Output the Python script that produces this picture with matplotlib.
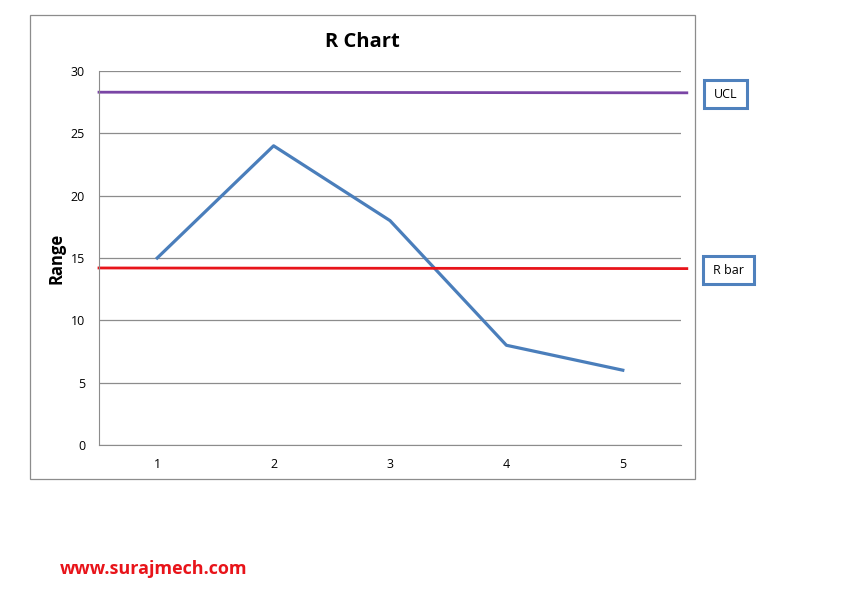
import matplotlib.pyplot as plt
from matplotlib.patches import Rectangle

plt.rcParams['font.family'] = 'sans-serif'
plt.rcParams['font.sans-serif'] = ['Open Sans', 'DejaVu Sans']

# Data
samples = [1, 2, 3, 4, 5]
ranges = [15, 24, 18, 8, 6]
ucl = 28.3
r_bar = 14.2
y_ticks = [0, 5, 10, 15, 20, 25, 30]

W, H = 844, 613
fig = plt.figure(figsize=(W / 100, H / 100), dpi=100)

# outer chart frame
fig.patches.append(Rectangle((30 / W, 1 - 479 / H), 665 / W, 464 / H, transform=fig.transFigure,
                             fill=False, edgecolor='#8C8C8C', linewidth=0.9))

ax = fig.add_axes([99 / W, 1 - 445 / H, 582 / W, 374 / H])
ax.plot(samples, ranges, color='#4A7EBB', linewidth=2.3)
ax.plot([0.5, 5.55], [ucl, ucl - 0.05], color='#7A45A5', linewidth=2, clip_on=False)
ax.plot([0.5, 5.55], [r_bar, r_bar - 0.05], color='#E8141A', linewidth=2, clip_on=False)

ax.set_xlim(0.5, 5.5)
ax.set_ylim(0, 30)
ax.set_yticks(y_ticks)
ax.set_xticks(samples)
ax.grid(axis='y', color='#8C8C8C', linewidth=0.9)
ax.set_axisbelow(True)
for side in ['top', 'right']:
    ax.spines[side].set_visible(False)
ax.spines['left'].set_color('#8C8C8C')
ax.spines['bottom'].set_color('#8C8C8C')
ax.tick_params(length=0, labelsize=9, colors='black', pad=10)
ax.tick_params(axis='x', pad=9)
ax.set_ylabel('Range', fontsize=12, fontweight='bold', labelpad=4)

# title centred on the whole chart frame
fig.text(362 / W, 1 - 42 / H, 'R Chart', fontsize=14.5, fontweight='bold', ha='center', va='center')

# control limit labels
for label, x0, y0, w, h in [('UCL', 704, 80, 43, 28), ('R bar', 703, 256, 51, 28)]:
    fig.patches.append(Rectangle((x0 / W, 1 - (y0 + h) / H), w / W, h / H, transform=fig.transFigure,
                                 fill=False, edgecolor='#4F81BD', linewidth=2.2))
    fig.text((x0 + w / 2) / W, 1 - (y0 + h / 2) / H, label, ha='center', va='center', fontsize=9)

fig.text(60 / W, 1 - 569 / H, 'www.surajmech.com', color='#E8141A', fontsize=13,
         fontweight='bold', ha='left', va='center')

fig.savefig('out.png', dpi=100)
